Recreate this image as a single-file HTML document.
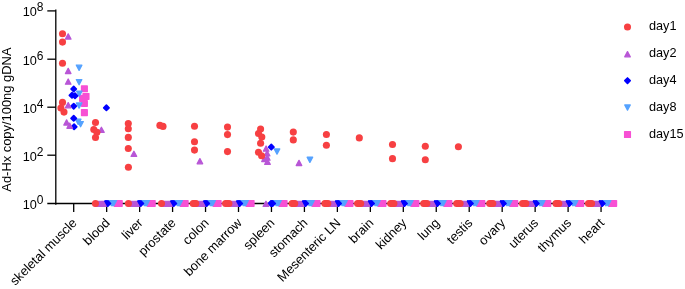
<!DOCTYPE html>
<html><head><meta charset="utf-8"><title>chart</title>
<style>html,body{margin:0;padding:0;background:#fff;}body{width:685px;height:289px;position:relative;overflow:hidden;}</style></head>
<body>
<svg width="685" height="289" viewBox="0 0 685 289" style="position:absolute;left:0;top:0">
<g stroke="#000" stroke-width="1.3" fill="none" stroke-linecap="butt">
<line x1="55.8" y1="9.6" x2="55.8" y2="204.8"/>
<line x1="47.3" y1="203.5" x2="617" y2="203.5"/>
<line x1="47.3" y1="10.9" x2="55.8" y2="10.9"/>
<line x1="47.3" y1="59.2" x2="55.8" y2="59.2"/>
<line x1="47.3" y1="107.2" x2="55.8" y2="107.2"/>
<line x1="47.3" y1="155.2" x2="55.8" y2="155.2"/>
<line x1="73.70" y1="203.5" x2="73.70" y2="212.0"/>
<line x1="106.66" y1="203.5" x2="106.66" y2="212.0"/>
<line x1="139.62" y1="203.5" x2="139.62" y2="212.0"/>
<line x1="172.58" y1="203.5" x2="172.58" y2="212.0"/>
<line x1="205.54" y1="203.5" x2="205.54" y2="212.0"/>
<line x1="238.50" y1="203.5" x2="238.50" y2="212.0"/>
<line x1="271.46" y1="203.5" x2="271.46" y2="212.0"/>
<line x1="304.42" y1="203.5" x2="304.42" y2="212.0"/>
<line x1="337.38" y1="203.5" x2="337.38" y2="212.0"/>
<line x1="370.34" y1="203.5" x2="370.34" y2="212.0"/>
<line x1="403.30" y1="203.5" x2="403.30" y2="212.0"/>
<line x1="436.26" y1="203.5" x2="436.26" y2="212.0"/>
<line x1="469.22" y1="203.5" x2="469.22" y2="212.0"/>
<line x1="502.18" y1="203.5" x2="502.18" y2="212.0"/>
<line x1="535.14" y1="203.5" x2="535.14" y2="212.0"/>
<line x1="568.10" y1="203.5" x2="568.10" y2="212.0"/>
<line x1="601.06" y1="203.5" x2="601.06" y2="212.0"/>
</g>
<g shape-rendering="geometricPrecision">
<rect x="113.61" y="199.95" width="7.1" height="7.1" rx="0.7" fill="#f750d4"/>
<rect x="114.66" y="199.95" width="7.1" height="7.1" rx="0.7" fill="#f750d4"/>
<rect x="115.71" y="199.95" width="7.1" height="7.1" rx="0.7" fill="#f750d4"/>
<rect x="146.57" y="199.95" width="7.1" height="7.1" rx="0.7" fill="#f750d4"/>
<rect x="147.62" y="199.95" width="7.1" height="7.1" rx="0.7" fill="#f750d4"/>
<rect x="148.67" y="199.95" width="7.1" height="7.1" rx="0.7" fill="#f750d4"/>
<rect x="179.53" y="199.95" width="7.1" height="7.1" rx="0.7" fill="#f750d4"/>
<rect x="180.58" y="199.95" width="7.1" height="7.1" rx="0.7" fill="#f750d4"/>
<rect x="181.63" y="199.95" width="7.1" height="7.1" rx="0.7" fill="#f750d4"/>
<rect x="212.49" y="199.95" width="7.1" height="7.1" rx="0.7" fill="#f750d4"/>
<rect x="213.54" y="199.95" width="7.1" height="7.1" rx="0.7" fill="#f750d4"/>
<rect x="214.59" y="199.95" width="7.1" height="7.1" rx="0.7" fill="#f750d4"/>
<rect x="245.45" y="199.95" width="7.1" height="7.1" rx="0.7" fill="#f750d4"/>
<rect x="246.50" y="199.95" width="7.1" height="7.1" rx="0.7" fill="#f750d4"/>
<rect x="247.55" y="199.95" width="7.1" height="7.1" rx="0.7" fill="#f750d4"/>
<rect x="278.41" y="199.95" width="7.1" height="7.1" rx="0.7" fill="#f750d4"/>
<rect x="279.46" y="199.95" width="7.1" height="7.1" rx="0.7" fill="#f750d4"/>
<rect x="280.51" y="199.95" width="7.1" height="7.1" rx="0.7" fill="#f750d4"/>
<rect x="311.37" y="199.95" width="7.1" height="7.1" rx="0.7" fill="#f750d4"/>
<rect x="312.42" y="199.95" width="7.1" height="7.1" rx="0.7" fill="#f750d4"/>
<rect x="313.47" y="199.95" width="7.1" height="7.1" rx="0.7" fill="#f750d4"/>
<rect x="344.33" y="199.95" width="7.1" height="7.1" rx="0.7" fill="#f750d4"/>
<rect x="345.38" y="199.95" width="7.1" height="7.1" rx="0.7" fill="#f750d4"/>
<rect x="346.43" y="199.95" width="7.1" height="7.1" rx="0.7" fill="#f750d4"/>
<rect x="377.29" y="199.95" width="7.1" height="7.1" rx="0.7" fill="#f750d4"/>
<rect x="378.34" y="199.95" width="7.1" height="7.1" rx="0.7" fill="#f750d4"/>
<rect x="379.39" y="199.95" width="7.1" height="7.1" rx="0.7" fill="#f750d4"/>
<rect x="410.25" y="199.95" width="7.1" height="7.1" rx="0.7" fill="#f750d4"/>
<rect x="411.30" y="199.95" width="7.1" height="7.1" rx="0.7" fill="#f750d4"/>
<rect x="412.35" y="199.95" width="7.1" height="7.1" rx="0.7" fill="#f750d4"/>
<rect x="443.21" y="199.95" width="7.1" height="7.1" rx="0.7" fill="#f750d4"/>
<rect x="444.26" y="199.95" width="7.1" height="7.1" rx="0.7" fill="#f750d4"/>
<rect x="445.31" y="199.95" width="7.1" height="7.1" rx="0.7" fill="#f750d4"/>
<rect x="476.17" y="199.95" width="7.1" height="7.1" rx="0.7" fill="#f750d4"/>
<rect x="477.22" y="199.95" width="7.1" height="7.1" rx="0.7" fill="#f750d4"/>
<rect x="478.27" y="199.95" width="7.1" height="7.1" rx="0.7" fill="#f750d4"/>
<rect x="509.13" y="199.95" width="7.1" height="7.1" rx="0.7" fill="#f750d4"/>
<rect x="510.18" y="199.95" width="7.1" height="7.1" rx="0.7" fill="#f750d4"/>
<rect x="511.23" y="199.95" width="7.1" height="7.1" rx="0.7" fill="#f750d4"/>
<rect x="542.09" y="199.95" width="7.1" height="7.1" rx="0.7" fill="#f750d4"/>
<rect x="543.14" y="199.95" width="7.1" height="7.1" rx="0.7" fill="#f750d4"/>
<rect x="544.19" y="199.95" width="7.1" height="7.1" rx="0.7" fill="#f750d4"/>
<rect x="575.05" y="199.95" width="7.1" height="7.1" rx="0.7" fill="#f750d4"/>
<rect x="576.10" y="199.95" width="7.1" height="7.1" rx="0.7" fill="#f750d4"/>
<rect x="577.15" y="199.95" width="7.1" height="7.1" rx="0.7" fill="#f750d4"/>
<rect x="608.01" y="199.95" width="7.1" height="7.1" rx="0.7" fill="#f750d4"/>
<rect x="609.06" y="199.95" width="7.1" height="7.1" rx="0.7" fill="#f750d4"/>
<rect x="610.11" y="199.95" width="7.1" height="7.1" rx="0.7" fill="#f750d4"/>
<rect x="80.85" y="85.25" width="7.1" height="7.1" rx="0.7" fill="#f750d4"/>
<rect x="79.05" y="94.85" width="7.1" height="7.1" rx="0.7" fill="#f750d4"/>
<rect x="82.45" y="92.90" width="7.1" height="7.1" rx="0.7" fill="#f750d4"/>
<rect x="80.85" y="99.90" width="7.1" height="7.1" rx="0.7" fill="#f750d4"/>
<rect x="80.85" y="109.05" width="7.1" height="7.1" rx="0.7" fill="#f750d4"/>
<polygon points="108.59,200.55 114.13,200.55 111.36,205.72" fill="#55a2ff" stroke="#55a2ff" stroke-width="1.3" stroke-linejoin="round"/>
<polygon points="109.79,200.55 115.33,200.55 112.56,205.72" fill="#55a2ff" stroke="#55a2ff" stroke-width="1.3" stroke-linejoin="round"/>
<polygon points="110.99,200.55 116.53,200.55 113.76,205.72" fill="#55a2ff" stroke="#55a2ff" stroke-width="1.3" stroke-linejoin="round"/>
<polygon points="141.55,200.55 147.09,200.55 144.32,205.72" fill="#55a2ff" stroke="#55a2ff" stroke-width="1.3" stroke-linejoin="round"/>
<polygon points="142.75,200.55 148.29,200.55 145.52,205.72" fill="#55a2ff" stroke="#55a2ff" stroke-width="1.3" stroke-linejoin="round"/>
<polygon points="143.95,200.55 149.49,200.55 146.72,205.72" fill="#55a2ff" stroke="#55a2ff" stroke-width="1.3" stroke-linejoin="round"/>
<polygon points="174.51,200.55 180.05,200.55 177.28,205.72" fill="#55a2ff" stroke="#55a2ff" stroke-width="1.3" stroke-linejoin="round"/>
<polygon points="175.71,200.55 181.25,200.55 178.48,205.72" fill="#55a2ff" stroke="#55a2ff" stroke-width="1.3" stroke-linejoin="round"/>
<polygon points="176.91,200.55 182.45,200.55 179.68,205.72" fill="#55a2ff" stroke="#55a2ff" stroke-width="1.3" stroke-linejoin="round"/>
<polygon points="207.47,200.55 213.01,200.55 210.24,205.72" fill="#55a2ff" stroke="#55a2ff" stroke-width="1.3" stroke-linejoin="round"/>
<polygon points="208.67,200.55 214.21,200.55 211.44,205.72" fill="#55a2ff" stroke="#55a2ff" stroke-width="1.3" stroke-linejoin="round"/>
<polygon points="209.87,200.55 215.41,200.55 212.64,205.72" fill="#55a2ff" stroke="#55a2ff" stroke-width="1.3" stroke-linejoin="round"/>
<polygon points="240.43,200.55 245.97,200.55 243.20,205.72" fill="#55a2ff" stroke="#55a2ff" stroke-width="1.3" stroke-linejoin="round"/>
<polygon points="241.63,200.55 247.17,200.55 244.40,205.72" fill="#55a2ff" stroke="#55a2ff" stroke-width="1.3" stroke-linejoin="round"/>
<polygon points="242.83,200.55 248.37,200.55 245.60,205.72" fill="#55a2ff" stroke="#55a2ff" stroke-width="1.3" stroke-linejoin="round"/>
<polygon points="273.39,200.55 278.93,200.55 276.16,205.72" fill="#55a2ff" stroke="#55a2ff" stroke-width="1.3" stroke-linejoin="round"/>
<polygon points="274.59,200.55 280.13,200.55 277.36,205.72" fill="#55a2ff" stroke="#55a2ff" stroke-width="1.3" stroke-linejoin="round"/>
<polygon points="275.79,200.55 281.33,200.55 278.56,205.72" fill="#55a2ff" stroke="#55a2ff" stroke-width="1.3" stroke-linejoin="round"/>
<polygon points="306.35,200.55 311.89,200.55 309.12,205.72" fill="#55a2ff" stroke="#55a2ff" stroke-width="1.3" stroke-linejoin="round"/>
<polygon points="307.55,200.55 313.09,200.55 310.32,205.72" fill="#55a2ff" stroke="#55a2ff" stroke-width="1.3" stroke-linejoin="round"/>
<polygon points="308.75,200.55 314.29,200.55 311.52,205.72" fill="#55a2ff" stroke="#55a2ff" stroke-width="1.3" stroke-linejoin="round"/>
<polygon points="339.31,200.55 344.85,200.55 342.08,205.72" fill="#55a2ff" stroke="#55a2ff" stroke-width="1.3" stroke-linejoin="round"/>
<polygon points="340.51,200.55 346.05,200.55 343.28,205.72" fill="#55a2ff" stroke="#55a2ff" stroke-width="1.3" stroke-linejoin="round"/>
<polygon points="341.71,200.55 347.25,200.55 344.48,205.72" fill="#55a2ff" stroke="#55a2ff" stroke-width="1.3" stroke-linejoin="round"/>
<polygon points="372.27,200.55 377.81,200.55 375.04,205.72" fill="#55a2ff" stroke="#55a2ff" stroke-width="1.3" stroke-linejoin="round"/>
<polygon points="373.47,200.55 379.01,200.55 376.24,205.72" fill="#55a2ff" stroke="#55a2ff" stroke-width="1.3" stroke-linejoin="round"/>
<polygon points="374.67,200.55 380.21,200.55 377.44,205.72" fill="#55a2ff" stroke="#55a2ff" stroke-width="1.3" stroke-linejoin="round"/>
<polygon points="405.23,200.55 410.77,200.55 408.00,205.72" fill="#55a2ff" stroke="#55a2ff" stroke-width="1.3" stroke-linejoin="round"/>
<polygon points="406.43,200.55 411.97,200.55 409.20,205.72" fill="#55a2ff" stroke="#55a2ff" stroke-width="1.3" stroke-linejoin="round"/>
<polygon points="407.63,200.55 413.17,200.55 410.40,205.72" fill="#55a2ff" stroke="#55a2ff" stroke-width="1.3" stroke-linejoin="round"/>
<polygon points="438.19,200.55 443.73,200.55 440.96,205.72" fill="#55a2ff" stroke="#55a2ff" stroke-width="1.3" stroke-linejoin="round"/>
<polygon points="439.39,200.55 444.93,200.55 442.16,205.72" fill="#55a2ff" stroke="#55a2ff" stroke-width="1.3" stroke-linejoin="round"/>
<polygon points="440.59,200.55 446.13,200.55 443.36,205.72" fill="#55a2ff" stroke="#55a2ff" stroke-width="1.3" stroke-linejoin="round"/>
<polygon points="471.15,200.55 476.69,200.55 473.92,205.72" fill="#55a2ff" stroke="#55a2ff" stroke-width="1.3" stroke-linejoin="round"/>
<polygon points="472.35,200.55 477.89,200.55 475.12,205.72" fill="#55a2ff" stroke="#55a2ff" stroke-width="1.3" stroke-linejoin="round"/>
<polygon points="473.55,200.55 479.09,200.55 476.32,205.72" fill="#55a2ff" stroke="#55a2ff" stroke-width="1.3" stroke-linejoin="round"/>
<polygon points="504.11,200.55 509.65,200.55 506.88,205.72" fill="#55a2ff" stroke="#55a2ff" stroke-width="1.3" stroke-linejoin="round"/>
<polygon points="505.31,200.55 510.85,200.55 508.08,205.72" fill="#55a2ff" stroke="#55a2ff" stroke-width="1.3" stroke-linejoin="round"/>
<polygon points="506.51,200.55 512.05,200.55 509.28,205.72" fill="#55a2ff" stroke="#55a2ff" stroke-width="1.3" stroke-linejoin="round"/>
<polygon points="537.07,200.55 542.61,200.55 539.84,205.72" fill="#55a2ff" stroke="#55a2ff" stroke-width="1.3" stroke-linejoin="round"/>
<polygon points="538.27,200.55 543.81,200.55 541.04,205.72" fill="#55a2ff" stroke="#55a2ff" stroke-width="1.3" stroke-linejoin="round"/>
<polygon points="539.47,200.55 545.01,200.55 542.24,205.72" fill="#55a2ff" stroke="#55a2ff" stroke-width="1.3" stroke-linejoin="round"/>
<polygon points="570.03,200.55 575.57,200.55 572.80,205.72" fill="#55a2ff" stroke="#55a2ff" stroke-width="1.3" stroke-linejoin="round"/>
<polygon points="571.23,200.55 576.77,200.55 574.00,205.72" fill="#55a2ff" stroke="#55a2ff" stroke-width="1.3" stroke-linejoin="round"/>
<polygon points="572.43,200.55 577.97,200.55 575.20,205.72" fill="#55a2ff" stroke="#55a2ff" stroke-width="1.3" stroke-linejoin="round"/>
<polygon points="602.99,200.55 608.53,200.55 605.76,205.72" fill="#55a2ff" stroke="#55a2ff" stroke-width="1.3" stroke-linejoin="round"/>
<polygon points="604.19,200.55 609.73,200.55 606.96,205.72" fill="#55a2ff" stroke="#55a2ff" stroke-width="1.3" stroke-linejoin="round"/>
<polygon points="605.39,200.55 610.93,200.55 608.16,205.72" fill="#55a2ff" stroke="#55a2ff" stroke-width="1.3" stroke-linejoin="round"/>
<polygon points="76.33,65.15 81.87,65.15 79.10,70.32" fill="#55a2ff" stroke="#55a2ff" stroke-width="1.3" stroke-linejoin="round"/>
<polygon points="76.33,79.55 81.87,79.55 79.10,84.72" fill="#55a2ff" stroke="#55a2ff" stroke-width="1.3" stroke-linejoin="round"/>
<polygon points="76.53,91.05 82.07,91.05 79.30,96.22" fill="#55a2ff" stroke="#55a2ff" stroke-width="1.3" stroke-linejoin="round"/>
<polygon points="76.33,102.95 81.87,102.95 79.10,108.12" fill="#55a2ff" stroke="#55a2ff" stroke-width="1.3" stroke-linejoin="round"/>
<polygon points="75.43,119.15 80.97,119.15 78.20,124.32" fill="#55a2ff" stroke="#55a2ff" stroke-width="1.3" stroke-linejoin="round"/>
<polygon points="77.83,121.55 83.37,121.55 80.60,126.72" fill="#55a2ff" stroke="#55a2ff" stroke-width="1.3" stroke-linejoin="round"/>
<polygon points="274.23,148.95 279.77,148.95 277.00,154.12" fill="#55a2ff" stroke="#55a2ff" stroke-width="1.3" stroke-linejoin="round"/>
<polygon points="307.13,157.25 312.67,157.25 309.90,162.42" fill="#55a2ff" stroke="#55a2ff" stroke-width="1.3" stroke-linejoin="round"/>
<polygon points="105.26,200.85 107.91,203.50 105.26,206.15 102.61,203.50" fill="#0000ff" stroke="#0000ff" stroke-width="1.7" stroke-linejoin="round"/>
<polygon points="106.56,200.85 109.21,203.50 106.56,206.15 103.91,203.50" fill="#0000ff" stroke="#0000ff" stroke-width="1.7" stroke-linejoin="round"/>
<polygon points="107.86,200.85 110.51,203.50 107.86,206.15 105.21,203.50" fill="#0000ff" stroke="#0000ff" stroke-width="1.7" stroke-linejoin="round"/>
<polygon points="138.22,200.85 140.87,203.50 138.22,206.15 135.57,203.50" fill="#0000ff" stroke="#0000ff" stroke-width="1.7" stroke-linejoin="round"/>
<polygon points="139.52,200.85 142.17,203.50 139.52,206.15 136.87,203.50" fill="#0000ff" stroke="#0000ff" stroke-width="1.7" stroke-linejoin="round"/>
<polygon points="140.82,200.85 143.47,203.50 140.82,206.15 138.17,203.50" fill="#0000ff" stroke="#0000ff" stroke-width="1.7" stroke-linejoin="round"/>
<polygon points="171.18,200.85 173.83,203.50 171.18,206.15 168.53,203.50" fill="#0000ff" stroke="#0000ff" stroke-width="1.7" stroke-linejoin="round"/>
<polygon points="172.48,200.85 175.13,203.50 172.48,206.15 169.83,203.50" fill="#0000ff" stroke="#0000ff" stroke-width="1.7" stroke-linejoin="round"/>
<polygon points="173.78,200.85 176.43,203.50 173.78,206.15 171.13,203.50" fill="#0000ff" stroke="#0000ff" stroke-width="1.7" stroke-linejoin="round"/>
<polygon points="204.14,200.85 206.79,203.50 204.14,206.15 201.49,203.50" fill="#0000ff" stroke="#0000ff" stroke-width="1.7" stroke-linejoin="round"/>
<polygon points="205.44,200.85 208.09,203.50 205.44,206.15 202.79,203.50" fill="#0000ff" stroke="#0000ff" stroke-width="1.7" stroke-linejoin="round"/>
<polygon points="206.74,200.85 209.39,203.50 206.74,206.15 204.09,203.50" fill="#0000ff" stroke="#0000ff" stroke-width="1.7" stroke-linejoin="round"/>
<polygon points="237.10,200.85 239.75,203.50 237.10,206.15 234.45,203.50" fill="#0000ff" stroke="#0000ff" stroke-width="1.7" stroke-linejoin="round"/>
<polygon points="238.40,200.85 241.05,203.50 238.40,206.15 235.75,203.50" fill="#0000ff" stroke="#0000ff" stroke-width="1.7" stroke-linejoin="round"/>
<polygon points="239.70,200.85 242.35,203.50 239.70,206.15 237.05,203.50" fill="#0000ff" stroke="#0000ff" stroke-width="1.7" stroke-linejoin="round"/>
<polygon points="270.96,200.85 273.61,203.50 270.96,206.15 268.31,203.50" fill="#0000ff" stroke="#0000ff" stroke-width="1.7" stroke-linejoin="round"/>
<polygon points="271.81,200.85 274.46,203.50 271.81,206.15 269.16,203.50" fill="#0000ff" stroke="#0000ff" stroke-width="1.7" stroke-linejoin="round"/>
<polygon points="272.66,200.85 275.31,203.50 272.66,206.15 270.01,203.50" fill="#0000ff" stroke="#0000ff" stroke-width="1.7" stroke-linejoin="round"/>
<polygon points="303.02,200.85 305.67,203.50 303.02,206.15 300.37,203.50" fill="#0000ff" stroke="#0000ff" stroke-width="1.7" stroke-linejoin="round"/>
<polygon points="304.32,200.85 306.97,203.50 304.32,206.15 301.67,203.50" fill="#0000ff" stroke="#0000ff" stroke-width="1.7" stroke-linejoin="round"/>
<polygon points="305.62,200.85 308.27,203.50 305.62,206.15 302.97,203.50" fill="#0000ff" stroke="#0000ff" stroke-width="1.7" stroke-linejoin="round"/>
<polygon points="335.98,200.85 338.63,203.50 335.98,206.15 333.33,203.50" fill="#0000ff" stroke="#0000ff" stroke-width="1.7" stroke-linejoin="round"/>
<polygon points="337.28,200.85 339.93,203.50 337.28,206.15 334.63,203.50" fill="#0000ff" stroke="#0000ff" stroke-width="1.7" stroke-linejoin="round"/>
<polygon points="338.58,200.85 341.23,203.50 338.58,206.15 335.93,203.50" fill="#0000ff" stroke="#0000ff" stroke-width="1.7" stroke-linejoin="round"/>
<polygon points="368.94,200.85 371.59,203.50 368.94,206.15 366.29,203.50" fill="#0000ff" stroke="#0000ff" stroke-width="1.7" stroke-linejoin="round"/>
<polygon points="370.24,200.85 372.89,203.50 370.24,206.15 367.59,203.50" fill="#0000ff" stroke="#0000ff" stroke-width="1.7" stroke-linejoin="round"/>
<polygon points="371.54,200.85 374.19,203.50 371.54,206.15 368.89,203.50" fill="#0000ff" stroke="#0000ff" stroke-width="1.7" stroke-linejoin="round"/>
<polygon points="401.90,200.85 404.55,203.50 401.90,206.15 399.25,203.50" fill="#0000ff" stroke="#0000ff" stroke-width="1.7" stroke-linejoin="round"/>
<polygon points="403.20,200.85 405.85,203.50 403.20,206.15 400.55,203.50" fill="#0000ff" stroke="#0000ff" stroke-width="1.7" stroke-linejoin="round"/>
<polygon points="404.50,200.85 407.15,203.50 404.50,206.15 401.85,203.50" fill="#0000ff" stroke="#0000ff" stroke-width="1.7" stroke-linejoin="round"/>
<polygon points="434.86,200.85 437.51,203.50 434.86,206.15 432.21,203.50" fill="#0000ff" stroke="#0000ff" stroke-width="1.7" stroke-linejoin="round"/>
<polygon points="436.16,200.85 438.81,203.50 436.16,206.15 433.51,203.50" fill="#0000ff" stroke="#0000ff" stroke-width="1.7" stroke-linejoin="round"/>
<polygon points="437.46,200.85 440.11,203.50 437.46,206.15 434.81,203.50" fill="#0000ff" stroke="#0000ff" stroke-width="1.7" stroke-linejoin="round"/>
<polygon points="467.82,200.85 470.47,203.50 467.82,206.15 465.17,203.50" fill="#0000ff" stroke="#0000ff" stroke-width="1.7" stroke-linejoin="round"/>
<polygon points="469.12,200.85 471.77,203.50 469.12,206.15 466.47,203.50" fill="#0000ff" stroke="#0000ff" stroke-width="1.7" stroke-linejoin="round"/>
<polygon points="470.42,200.85 473.07,203.50 470.42,206.15 467.77,203.50" fill="#0000ff" stroke="#0000ff" stroke-width="1.7" stroke-linejoin="round"/>
<polygon points="500.78,200.85 503.43,203.50 500.78,206.15 498.13,203.50" fill="#0000ff" stroke="#0000ff" stroke-width="1.7" stroke-linejoin="round"/>
<polygon points="502.08,200.85 504.73,203.50 502.08,206.15 499.43,203.50" fill="#0000ff" stroke="#0000ff" stroke-width="1.7" stroke-linejoin="round"/>
<polygon points="503.38,200.85 506.03,203.50 503.38,206.15 500.73,203.50" fill="#0000ff" stroke="#0000ff" stroke-width="1.7" stroke-linejoin="round"/>
<polygon points="533.74,200.85 536.39,203.50 533.74,206.15 531.09,203.50" fill="#0000ff" stroke="#0000ff" stroke-width="1.7" stroke-linejoin="round"/>
<polygon points="535.04,200.85 537.69,203.50 535.04,206.15 532.39,203.50" fill="#0000ff" stroke="#0000ff" stroke-width="1.7" stroke-linejoin="round"/>
<polygon points="536.34,200.85 538.99,203.50 536.34,206.15 533.69,203.50" fill="#0000ff" stroke="#0000ff" stroke-width="1.7" stroke-linejoin="round"/>
<polygon points="566.70,200.85 569.35,203.50 566.70,206.15 564.05,203.50" fill="#0000ff" stroke="#0000ff" stroke-width="1.7" stroke-linejoin="round"/>
<polygon points="568.00,200.85 570.65,203.50 568.00,206.15 565.35,203.50" fill="#0000ff" stroke="#0000ff" stroke-width="1.7" stroke-linejoin="round"/>
<polygon points="569.30,200.85 571.95,203.50 569.30,206.15 566.65,203.50" fill="#0000ff" stroke="#0000ff" stroke-width="1.7" stroke-linejoin="round"/>
<polygon points="599.66,200.85 602.31,203.50 599.66,206.15 597.01,203.50" fill="#0000ff" stroke="#0000ff" stroke-width="1.7" stroke-linejoin="round"/>
<polygon points="600.96,200.85 603.61,203.50 600.96,206.15 598.31,203.50" fill="#0000ff" stroke="#0000ff" stroke-width="1.7" stroke-linejoin="round"/>
<polygon points="602.26,200.85 604.91,203.50 602.26,206.15 599.61,203.50" fill="#0000ff" stroke="#0000ff" stroke-width="1.7" stroke-linejoin="round"/>
<polygon points="73.70,86.35 76.35,89.00 73.70,91.65 71.05,89.00" fill="#0000ff" stroke="#0000ff" stroke-width="1.7" stroke-linejoin="round"/>
<polygon points="72.00,92.65 74.65,95.30 72.00,97.95 69.35,95.30" fill="#0000ff" stroke="#0000ff" stroke-width="1.7" stroke-linejoin="round"/>
<polygon points="75.00,93.15 77.65,95.80 75.00,98.45 72.35,95.80" fill="#0000ff" stroke="#0000ff" stroke-width="1.7" stroke-linejoin="round"/>
<polygon points="73.70,103.55 76.35,106.20 73.70,108.85 71.05,106.20" fill="#0000ff" stroke="#0000ff" stroke-width="1.7" stroke-linejoin="round"/>
<polygon points="73.70,115.65 76.35,118.30 73.70,120.95 71.05,118.30" fill="#0000ff" stroke="#0000ff" stroke-width="1.7" stroke-linejoin="round"/>
<polygon points="74.10,124.15 76.75,126.80 74.10,129.45 71.45,126.80" fill="#0000ff" stroke="#0000ff" stroke-width="1.7" stroke-linejoin="round"/>
<polygon points="106.40,105.15 109.05,107.80 106.40,110.45 103.75,107.80" fill="#0000ff" stroke="#0000ff" stroke-width="1.7" stroke-linejoin="round"/>
<polygon points="271.30,144.45 273.95,147.10 271.30,149.75 268.65,147.10" fill="#0000ff" stroke="#0000ff" stroke-width="1.7" stroke-linejoin="round"/>
<polygon points="97.86,201.23 100.63,206.40 95.09,206.40" fill="#b856d6" stroke="#b856d6" stroke-width="1.3" stroke-linejoin="round"/>
<polygon points="98.96,201.23 101.73,206.40 96.19,206.40" fill="#b856d6" stroke="#b856d6" stroke-width="1.3" stroke-linejoin="round"/>
<polygon points="100.06,201.23 102.83,206.40 97.29,206.40" fill="#b856d6" stroke="#b856d6" stroke-width="1.3" stroke-linejoin="round"/>
<polygon points="101.16,201.23 103.93,206.40 98.39,206.40" fill="#b856d6" stroke="#b856d6" stroke-width="1.3" stroke-linejoin="round"/>
<polygon points="102.26,201.23 105.03,206.40 99.49,206.40" fill="#b856d6" stroke="#b856d6" stroke-width="1.3" stroke-linejoin="round"/>
<polygon points="103.36,201.23 106.13,206.40 100.59,206.40" fill="#b856d6" stroke="#b856d6" stroke-width="1.3" stroke-linejoin="round"/>
<polygon points="130.82,201.23 133.59,206.40 128.05,206.40" fill="#b856d6" stroke="#b856d6" stroke-width="1.3" stroke-linejoin="round"/>
<polygon points="131.92,201.23 134.69,206.40 129.15,206.40" fill="#b856d6" stroke="#b856d6" stroke-width="1.3" stroke-linejoin="round"/>
<polygon points="133.02,201.23 135.79,206.40 130.25,206.40" fill="#b856d6" stroke="#b856d6" stroke-width="1.3" stroke-linejoin="round"/>
<polygon points="134.12,201.23 136.89,206.40 131.35,206.40" fill="#b856d6" stroke="#b856d6" stroke-width="1.3" stroke-linejoin="round"/>
<polygon points="135.22,201.23 137.99,206.40 132.45,206.40" fill="#b856d6" stroke="#b856d6" stroke-width="1.3" stroke-linejoin="round"/>
<polygon points="136.32,201.23 139.09,206.40 133.55,206.40" fill="#b856d6" stroke="#b856d6" stroke-width="1.3" stroke-linejoin="round"/>
<polygon points="163.78,201.23 166.55,206.40 161.01,206.40" fill="#b856d6" stroke="#b856d6" stroke-width="1.3" stroke-linejoin="round"/>
<polygon points="164.88,201.23 167.65,206.40 162.11,206.40" fill="#b856d6" stroke="#b856d6" stroke-width="1.3" stroke-linejoin="round"/>
<polygon points="165.98,201.23 168.75,206.40 163.21,206.40" fill="#b856d6" stroke="#b856d6" stroke-width="1.3" stroke-linejoin="round"/>
<polygon points="167.08,201.23 169.85,206.40 164.31,206.40" fill="#b856d6" stroke="#b856d6" stroke-width="1.3" stroke-linejoin="round"/>
<polygon points="168.18,201.23 170.95,206.40 165.41,206.40" fill="#b856d6" stroke="#b856d6" stroke-width="1.3" stroke-linejoin="round"/>
<polygon points="169.28,201.23 172.05,206.40 166.51,206.40" fill="#b856d6" stroke="#b856d6" stroke-width="1.3" stroke-linejoin="round"/>
<polygon points="196.74,201.23 199.51,206.40 193.97,206.40" fill="#b856d6" stroke="#b856d6" stroke-width="1.3" stroke-linejoin="round"/>
<polygon points="197.84,201.23 200.61,206.40 195.07,206.40" fill="#b856d6" stroke="#b856d6" stroke-width="1.3" stroke-linejoin="round"/>
<polygon points="198.94,201.23 201.71,206.40 196.17,206.40" fill="#b856d6" stroke="#b856d6" stroke-width="1.3" stroke-linejoin="round"/>
<polygon points="200.04,201.23 202.81,206.40 197.27,206.40" fill="#b856d6" stroke="#b856d6" stroke-width="1.3" stroke-linejoin="round"/>
<polygon points="201.14,201.23 203.91,206.40 198.37,206.40" fill="#b856d6" stroke="#b856d6" stroke-width="1.3" stroke-linejoin="round"/>
<polygon points="202.24,201.23 205.01,206.40 199.47,206.40" fill="#b856d6" stroke="#b856d6" stroke-width="1.3" stroke-linejoin="round"/>
<polygon points="229.70,201.23 232.47,206.40 226.93,206.40" fill="#b856d6" stroke="#b856d6" stroke-width="1.3" stroke-linejoin="round"/>
<polygon points="230.80,201.23 233.57,206.40 228.03,206.40" fill="#b856d6" stroke="#b856d6" stroke-width="1.3" stroke-linejoin="round"/>
<polygon points="231.90,201.23 234.67,206.40 229.13,206.40" fill="#b856d6" stroke="#b856d6" stroke-width="1.3" stroke-linejoin="round"/>
<polygon points="233.00,201.23 235.77,206.40 230.23,206.40" fill="#b856d6" stroke="#b856d6" stroke-width="1.3" stroke-linejoin="round"/>
<polygon points="234.10,201.23 236.87,206.40 231.33,206.40" fill="#b856d6" stroke="#b856d6" stroke-width="1.3" stroke-linejoin="round"/>
<polygon points="235.20,201.23 237.97,206.40 232.43,206.40" fill="#b856d6" stroke="#b856d6" stroke-width="1.3" stroke-linejoin="round"/>
<polygon points="265.96,201.23 268.73,206.40 263.19,206.40" fill="#b856d6" stroke="#b856d6" stroke-width="1.3" stroke-linejoin="round"/>
<polygon points="295.62,201.23 298.39,206.40 292.85,206.40" fill="#b856d6" stroke="#b856d6" stroke-width="1.3" stroke-linejoin="round"/>
<polygon points="296.72,201.23 299.49,206.40 293.95,206.40" fill="#b856d6" stroke="#b856d6" stroke-width="1.3" stroke-linejoin="round"/>
<polygon points="297.82,201.23 300.59,206.40 295.05,206.40" fill="#b856d6" stroke="#b856d6" stroke-width="1.3" stroke-linejoin="round"/>
<polygon points="298.92,201.23 301.69,206.40 296.15,206.40" fill="#b856d6" stroke="#b856d6" stroke-width="1.3" stroke-linejoin="round"/>
<polygon points="300.02,201.23 302.79,206.40 297.25,206.40" fill="#b856d6" stroke="#b856d6" stroke-width="1.3" stroke-linejoin="round"/>
<polygon points="301.12,201.23 303.89,206.40 298.35,206.40" fill="#b856d6" stroke="#b856d6" stroke-width="1.3" stroke-linejoin="round"/>
<polygon points="328.58,201.23 331.35,206.40 325.81,206.40" fill="#b856d6" stroke="#b856d6" stroke-width="1.3" stroke-linejoin="round"/>
<polygon points="329.68,201.23 332.45,206.40 326.91,206.40" fill="#b856d6" stroke="#b856d6" stroke-width="1.3" stroke-linejoin="round"/>
<polygon points="330.78,201.23 333.55,206.40 328.01,206.40" fill="#b856d6" stroke="#b856d6" stroke-width="1.3" stroke-linejoin="round"/>
<polygon points="331.88,201.23 334.65,206.40 329.11,206.40" fill="#b856d6" stroke="#b856d6" stroke-width="1.3" stroke-linejoin="round"/>
<polygon points="332.98,201.23 335.75,206.40 330.21,206.40" fill="#b856d6" stroke="#b856d6" stroke-width="1.3" stroke-linejoin="round"/>
<polygon points="334.08,201.23 336.85,206.40 331.31,206.40" fill="#b856d6" stroke="#b856d6" stroke-width="1.3" stroke-linejoin="round"/>
<polygon points="361.54,201.23 364.31,206.40 358.77,206.40" fill="#b856d6" stroke="#b856d6" stroke-width="1.3" stroke-linejoin="round"/>
<polygon points="362.64,201.23 365.41,206.40 359.87,206.40" fill="#b856d6" stroke="#b856d6" stroke-width="1.3" stroke-linejoin="round"/>
<polygon points="363.74,201.23 366.51,206.40 360.97,206.40" fill="#b856d6" stroke="#b856d6" stroke-width="1.3" stroke-linejoin="round"/>
<polygon points="364.84,201.23 367.61,206.40 362.07,206.40" fill="#b856d6" stroke="#b856d6" stroke-width="1.3" stroke-linejoin="round"/>
<polygon points="365.94,201.23 368.71,206.40 363.17,206.40" fill="#b856d6" stroke="#b856d6" stroke-width="1.3" stroke-linejoin="round"/>
<polygon points="367.04,201.23 369.81,206.40 364.27,206.40" fill="#b856d6" stroke="#b856d6" stroke-width="1.3" stroke-linejoin="round"/>
<polygon points="394.50,201.23 397.27,206.40 391.73,206.40" fill="#b856d6" stroke="#b856d6" stroke-width="1.3" stroke-linejoin="round"/>
<polygon points="395.60,201.23 398.37,206.40 392.83,206.40" fill="#b856d6" stroke="#b856d6" stroke-width="1.3" stroke-linejoin="round"/>
<polygon points="396.70,201.23 399.47,206.40 393.93,206.40" fill="#b856d6" stroke="#b856d6" stroke-width="1.3" stroke-linejoin="round"/>
<polygon points="397.80,201.23 400.57,206.40 395.03,206.40" fill="#b856d6" stroke="#b856d6" stroke-width="1.3" stroke-linejoin="round"/>
<polygon points="398.90,201.23 401.67,206.40 396.13,206.40" fill="#b856d6" stroke="#b856d6" stroke-width="1.3" stroke-linejoin="round"/>
<polygon points="400.00,201.23 402.77,206.40 397.23,206.40" fill="#b856d6" stroke="#b856d6" stroke-width="1.3" stroke-linejoin="round"/>
<polygon points="427.46,201.23 430.23,206.40 424.69,206.40" fill="#b856d6" stroke="#b856d6" stroke-width="1.3" stroke-linejoin="round"/>
<polygon points="428.56,201.23 431.33,206.40 425.79,206.40" fill="#b856d6" stroke="#b856d6" stroke-width="1.3" stroke-linejoin="round"/>
<polygon points="429.66,201.23 432.43,206.40 426.89,206.40" fill="#b856d6" stroke="#b856d6" stroke-width="1.3" stroke-linejoin="round"/>
<polygon points="430.76,201.23 433.53,206.40 427.99,206.40" fill="#b856d6" stroke="#b856d6" stroke-width="1.3" stroke-linejoin="round"/>
<polygon points="431.86,201.23 434.63,206.40 429.09,206.40" fill="#b856d6" stroke="#b856d6" stroke-width="1.3" stroke-linejoin="round"/>
<polygon points="432.96,201.23 435.73,206.40 430.19,206.40" fill="#b856d6" stroke="#b856d6" stroke-width="1.3" stroke-linejoin="round"/>
<polygon points="460.42,201.23 463.19,206.40 457.65,206.40" fill="#b856d6" stroke="#b856d6" stroke-width="1.3" stroke-linejoin="round"/>
<polygon points="461.52,201.23 464.29,206.40 458.75,206.40" fill="#b856d6" stroke="#b856d6" stroke-width="1.3" stroke-linejoin="round"/>
<polygon points="462.62,201.23 465.39,206.40 459.85,206.40" fill="#b856d6" stroke="#b856d6" stroke-width="1.3" stroke-linejoin="round"/>
<polygon points="463.72,201.23 466.49,206.40 460.95,206.40" fill="#b856d6" stroke="#b856d6" stroke-width="1.3" stroke-linejoin="round"/>
<polygon points="464.82,201.23 467.59,206.40 462.05,206.40" fill="#b856d6" stroke="#b856d6" stroke-width="1.3" stroke-linejoin="round"/>
<polygon points="465.92,201.23 468.69,206.40 463.15,206.40" fill="#b856d6" stroke="#b856d6" stroke-width="1.3" stroke-linejoin="round"/>
<polygon points="493.38,201.23 496.15,206.40 490.61,206.40" fill="#b856d6" stroke="#b856d6" stroke-width="1.3" stroke-linejoin="round"/>
<polygon points="494.48,201.23 497.25,206.40 491.71,206.40" fill="#b856d6" stroke="#b856d6" stroke-width="1.3" stroke-linejoin="round"/>
<polygon points="495.58,201.23 498.35,206.40 492.81,206.40" fill="#b856d6" stroke="#b856d6" stroke-width="1.3" stroke-linejoin="round"/>
<polygon points="496.68,201.23 499.45,206.40 493.91,206.40" fill="#b856d6" stroke="#b856d6" stroke-width="1.3" stroke-linejoin="round"/>
<polygon points="497.78,201.23 500.55,206.40 495.01,206.40" fill="#b856d6" stroke="#b856d6" stroke-width="1.3" stroke-linejoin="round"/>
<polygon points="498.88,201.23 501.65,206.40 496.11,206.40" fill="#b856d6" stroke="#b856d6" stroke-width="1.3" stroke-linejoin="round"/>
<polygon points="526.34,201.23 529.11,206.40 523.57,206.40" fill="#b856d6" stroke="#b856d6" stroke-width="1.3" stroke-linejoin="round"/>
<polygon points="527.44,201.23 530.21,206.40 524.67,206.40" fill="#b856d6" stroke="#b856d6" stroke-width="1.3" stroke-linejoin="round"/>
<polygon points="528.54,201.23 531.31,206.40 525.77,206.40" fill="#b856d6" stroke="#b856d6" stroke-width="1.3" stroke-linejoin="round"/>
<polygon points="529.64,201.23 532.41,206.40 526.87,206.40" fill="#b856d6" stroke="#b856d6" stroke-width="1.3" stroke-linejoin="round"/>
<polygon points="530.74,201.23 533.51,206.40 527.97,206.40" fill="#b856d6" stroke="#b856d6" stroke-width="1.3" stroke-linejoin="round"/>
<polygon points="531.84,201.23 534.61,206.40 529.07,206.40" fill="#b856d6" stroke="#b856d6" stroke-width="1.3" stroke-linejoin="round"/>
<polygon points="559.30,201.23 562.07,206.40 556.53,206.40" fill="#b856d6" stroke="#b856d6" stroke-width="1.3" stroke-linejoin="round"/>
<polygon points="560.40,201.23 563.17,206.40 557.63,206.40" fill="#b856d6" stroke="#b856d6" stroke-width="1.3" stroke-linejoin="round"/>
<polygon points="561.50,201.23 564.27,206.40 558.73,206.40" fill="#b856d6" stroke="#b856d6" stroke-width="1.3" stroke-linejoin="round"/>
<polygon points="562.60,201.23 565.37,206.40 559.83,206.40" fill="#b856d6" stroke="#b856d6" stroke-width="1.3" stroke-linejoin="round"/>
<polygon points="563.70,201.23 566.47,206.40 560.93,206.40" fill="#b856d6" stroke="#b856d6" stroke-width="1.3" stroke-linejoin="round"/>
<polygon points="564.80,201.23 567.57,206.40 562.03,206.40" fill="#b856d6" stroke="#b856d6" stroke-width="1.3" stroke-linejoin="round"/>
<polygon points="592.26,201.23 595.03,206.40 589.49,206.40" fill="#b856d6" stroke="#b856d6" stroke-width="1.3" stroke-linejoin="round"/>
<polygon points="593.36,201.23 596.13,206.40 590.59,206.40" fill="#b856d6" stroke="#b856d6" stroke-width="1.3" stroke-linejoin="round"/>
<polygon points="594.46,201.23 597.23,206.40 591.69,206.40" fill="#b856d6" stroke="#b856d6" stroke-width="1.3" stroke-linejoin="round"/>
<polygon points="595.56,201.23 598.33,206.40 592.79,206.40" fill="#b856d6" stroke="#b856d6" stroke-width="1.3" stroke-linejoin="round"/>
<polygon points="596.66,201.23 599.43,206.40 593.89,206.40" fill="#b856d6" stroke="#b856d6" stroke-width="1.3" stroke-linejoin="round"/>
<polygon points="597.76,201.23 600.53,206.40 594.99,206.40" fill="#b856d6" stroke="#b856d6" stroke-width="1.3" stroke-linejoin="round"/>
<polygon points="68.20,33.93 70.97,39.10 65.43,39.10" fill="#b856d6" stroke="#b856d6" stroke-width="1.3" stroke-linejoin="round"/>
<polygon points="68.20,68.33 70.97,73.50 65.43,73.50" fill="#b856d6" stroke="#b856d6" stroke-width="1.3" stroke-linejoin="round"/>
<polygon points="68.20,79.03 70.97,84.20 65.43,84.20" fill="#b856d6" stroke="#b856d6" stroke-width="1.3" stroke-linejoin="round"/>
<polygon points="68.20,102.63 70.97,107.80 65.43,107.80" fill="#b856d6" stroke="#b856d6" stroke-width="1.3" stroke-linejoin="round"/>
<polygon points="66.60,119.93 69.37,125.10 63.83,125.10" fill="#b856d6" stroke="#b856d6" stroke-width="1.3" stroke-linejoin="round"/>
<polygon points="69.70,123.13 72.47,128.30 66.93,128.30" fill="#b856d6" stroke="#b856d6" stroke-width="1.3" stroke-linejoin="round"/>
<polygon points="101.40,127.23 104.17,132.40 98.63,132.40" fill="#b856d6" stroke="#b856d6" stroke-width="1.3" stroke-linejoin="round"/>
<polygon points="133.90,151.23 136.67,156.40 131.13,156.40" fill="#b856d6" stroke="#b856d6" stroke-width="1.3" stroke-linejoin="round"/>
<polygon points="199.90,158.63 202.67,163.80 197.13,163.80" fill="#b856d6" stroke="#b856d6" stroke-width="1.3" stroke-linejoin="round"/>
<polygon points="266.10,146.03 268.87,151.20 263.33,151.20" fill="#b856d6" stroke="#b856d6" stroke-width="1.3" stroke-linejoin="round"/>
<polygon points="267.10,150.73 269.87,155.90 264.33,155.90" fill="#b856d6" stroke="#b856d6" stroke-width="1.3" stroke-linejoin="round"/>
<polygon points="267.30,155.03 270.07,160.20 264.53,160.20" fill="#b856d6" stroke="#b856d6" stroke-width="1.3" stroke-linejoin="round"/>
<polygon points="264.50,156.43 267.27,161.60 261.73,161.60" fill="#b856d6" stroke="#b856d6" stroke-width="1.3" stroke-linejoin="round"/>
<polygon points="267.50,159.23 270.27,164.40 264.73,164.40" fill="#b856d6" stroke="#b856d6" stroke-width="1.3" stroke-linejoin="round"/>
<polygon points="299.00,160.33 301.77,165.50 296.23,165.50" fill="#b856d6" stroke="#b856d6" stroke-width="1.3" stroke-linejoin="round"/>
<circle cx="95.45" cy="203.50" r="3.55" fill="#f74042"/>
<circle cx="128.43" cy="203.50" r="3.55" fill="#f74042"/>
<circle cx="161.50" cy="203.50" r="3.55" fill="#f74042"/>
<circle cx="193.20" cy="203.50" r="3.55" fill="#f74042"/>
<circle cx="194.50" cy="203.50" r="3.55" fill="#f74042"/>
<circle cx="195.80" cy="203.50" r="3.55" fill="#f74042"/>
<circle cx="225.60" cy="203.50" r="3.55" fill="#f74042"/>
<circle cx="227.25" cy="203.50" r="3.55" fill="#f74042"/>
<circle cx="228.90" cy="203.50" r="3.55" fill="#f74042"/>
<circle cx="292.10" cy="203.50" r="3.55" fill="#f74042"/>
<circle cx="293.40" cy="203.50" r="3.55" fill="#f74042"/>
<circle cx="294.70" cy="203.50" r="3.55" fill="#f74042"/>
<circle cx="324.90" cy="203.50" r="3.55" fill="#f74042"/>
<circle cx="326.35" cy="203.50" r="3.55" fill="#f74042"/>
<circle cx="327.80" cy="203.50" r="3.55" fill="#f74042"/>
<circle cx="357.60" cy="203.50" r="3.55" fill="#f74042"/>
<circle cx="359.15" cy="203.50" r="3.55" fill="#f74042"/>
<circle cx="360.70" cy="203.50" r="3.55" fill="#f74042"/>
<circle cx="390.70" cy="203.50" r="3.55" fill="#f74042"/>
<circle cx="392.30" cy="203.50" r="3.55" fill="#f74042"/>
<circle cx="393.90" cy="203.50" r="3.55" fill="#f74042"/>
<circle cx="423.70" cy="203.50" r="3.55" fill="#f74042"/>
<circle cx="425.25" cy="203.50" r="3.55" fill="#f74042"/>
<circle cx="426.80" cy="203.50" r="3.55" fill="#f74042"/>
<circle cx="456.70" cy="203.50" r="3.55" fill="#f74042"/>
<circle cx="458.40" cy="203.50" r="3.55" fill="#f74042"/>
<circle cx="460.10" cy="203.50" r="3.55" fill="#f74042"/>
<circle cx="489.70" cy="203.50" r="3.55" fill="#f74042"/>
<circle cx="491.25" cy="203.50" r="3.55" fill="#f74042"/>
<circle cx="492.80" cy="203.50" r="3.55" fill="#f74042"/>
<circle cx="522.50" cy="203.50" r="3.55" fill="#f74042"/>
<circle cx="524.20" cy="203.50" r="3.55" fill="#f74042"/>
<circle cx="525.90" cy="203.50" r="3.55" fill="#f74042"/>
<circle cx="556.00" cy="203.50" r="3.55" fill="#f74042"/>
<circle cx="557.40" cy="203.50" r="3.55" fill="#f74042"/>
<circle cx="558.80" cy="203.50" r="3.55" fill="#f74042"/>
<circle cx="588.50" cy="203.50" r="3.55" fill="#f74042"/>
<circle cx="590.05" cy="203.50" r="3.55" fill="#f74042"/>
<circle cx="591.60" cy="203.50" r="3.55" fill="#f74042"/>
<circle cx="62.50" cy="33.80" r="3.55" fill="#f74042"/>
<circle cx="62.50" cy="42.10" r="3.55" fill="#f74042"/>
<circle cx="62.50" cy="63.30" r="3.55" fill="#f74042"/>
<circle cx="62.50" cy="102.40" r="3.55" fill="#f74042"/>
<circle cx="60.90" cy="108.00" r="3.55" fill="#f74042"/>
<circle cx="64.00" cy="112.10" r="3.55" fill="#f74042"/>
<circle cx="95.50" cy="122.50" r="3.55" fill="#f74042"/>
<circle cx="93.80" cy="129.50" r="3.55" fill="#f74042"/>
<circle cx="96.90" cy="132.30" r="3.55" fill="#f74042"/>
<circle cx="95.50" cy="137.50" r="3.55" fill="#f74042"/>
<circle cx="128.30" cy="123.50" r="3.55" fill="#f74042"/>
<circle cx="128.30" cy="128.70" r="3.55" fill="#f74042"/>
<circle cx="128.30" cy="137.40" r="3.55" fill="#f74042"/>
<circle cx="128.30" cy="148.50" r="3.55" fill="#f74042"/>
<circle cx="128.40" cy="167.25" r="3.55" fill="#f74042"/>
<circle cx="159.90" cy="125.40" r="3.55" fill="#f74042"/>
<circle cx="163.00" cy="126.40" r="3.55" fill="#f74042"/>
<circle cx="194.50" cy="126.30" r="3.55" fill="#f74042"/>
<circle cx="194.50" cy="141.75" r="3.55" fill="#f74042"/>
<circle cx="194.50" cy="150.10" r="3.55" fill="#f74042"/>
<circle cx="227.50" cy="127.10" r="3.55" fill="#f74042"/>
<circle cx="227.50" cy="134.60" r="3.55" fill="#f74042"/>
<circle cx="227.50" cy="151.60" r="3.55" fill="#f74042"/>
<circle cx="260.60" cy="129.00" r="3.55" fill="#f74042"/>
<circle cx="258.50" cy="133.50" r="3.55" fill="#f74042"/>
<circle cx="261.80" cy="137.00" r="3.55" fill="#f74042"/>
<circle cx="260.60" cy="143.20" r="3.55" fill="#f74042"/>
<circle cx="258.50" cy="152.25" r="3.55" fill="#f74042"/>
<circle cx="261.60" cy="155.80" r="3.55" fill="#f74042"/>
<circle cx="293.30" cy="132.10" r="3.55" fill="#f74042"/>
<circle cx="293.30" cy="139.90" r="3.55" fill="#f74042"/>
<circle cx="326.40" cy="134.50" r="3.55" fill="#f74042"/>
<circle cx="326.40" cy="145.20" r="3.55" fill="#f74042"/>
<circle cx="359.30" cy="137.90" r="3.55" fill="#f74042"/>
<circle cx="392.50" cy="144.50" r="3.55" fill="#f74042"/>
<circle cx="392.50" cy="158.65" r="3.55" fill="#f74042"/>
<circle cx="425.30" cy="146.20" r="3.55" fill="#f74042"/>
<circle cx="425.30" cy="159.70" r="3.55" fill="#f74042"/>
<circle cx="458.40" cy="146.80" r="3.55" fill="#f74042"/>
<circle cx="627.50" cy="26.95" r="3.55" fill="#f74042"/>
<polygon points="627.50,51.68 630.27,56.85 624.73,56.85" fill="#b856d6" stroke="#b856d6" stroke-width="1.3" stroke-linejoin="round"/>
<polygon points="627.50,78.00 630.15,80.65 627.50,83.30 624.85,80.65" fill="#0000ff" stroke="#0000ff" stroke-width="1.7" stroke-linejoin="round"/>
<polygon points="624.73,104.95 630.27,104.95 627.50,110.12" fill="#55a2ff" stroke="#55a2ff" stroke-width="1.3" stroke-linejoin="round"/>
<rect x="623.95" y="131.00" width="7.1" height="7.1" rx="0.7" fill="#f750d4"/>
</g>
<g font-family="'Liberation Sans', Arial, sans-serif" font-size="12.7" fill="#000">
<text x="649" y="29.9">day1</text>
<text x="649" y="57.1">day2</text>
<text x="649" y="84.2">day4</text>
<text x="649" y="111.1">day8</text>
<text x="649" y="138.1">day15</text>
<text x="22.7" y="16.3">10<tspan dy="-5.0" font-size="12">8</tspan></text>
<text x="22.7" y="64.6">10<tspan dy="-5.0" font-size="12">6</tspan></text>
<text x="22.7" y="112.6">10<tspan dy="-5.0" font-size="12">4</tspan></text>
<text x="22.7" y="160.6">10<tspan dy="-5.0" font-size="12">2</tspan></text>
<text x="22.7" y="208.9">10<tspan dy="-5.0" font-size="12">0</tspan></text>
<text transform="translate(10.8,191.7) rotate(-90)" x="0" y="0" font-size="12.92">Ad-Hx copy/100ng gDNA</text>
<text transform="translate(77.70,223.6) rotate(-45)" text-anchor="end" x="0" y="0" font-size="12.92">skeletal muscle</text>
<text transform="translate(110.66,223.6) rotate(-45)" text-anchor="end" x="0" y="0" font-size="12.92">blood</text>
<text transform="translate(143.62,223.6) rotate(-45)" text-anchor="end" x="0" y="0" font-size="12.92">liver</text>
<text transform="translate(176.58,223.6) rotate(-45)" text-anchor="end" x="0" y="0" font-size="12.92">prostate</text>
<text transform="translate(209.54,223.6) rotate(-45)" text-anchor="end" x="0" y="0" font-size="12.92">colon</text>
<text transform="translate(242.50,223.6) rotate(-45)" text-anchor="end" x="0" y="0" font-size="12.92">bone marrow</text>
<text transform="translate(275.46,223.6) rotate(-45)" text-anchor="end" x="0" y="0" font-size="12.92">spleen</text>
<text transform="translate(308.42,223.6) rotate(-45)" text-anchor="end" x="0" y="0" font-size="12.92">stomach</text>
<text transform="translate(341.38,223.6) rotate(-45)" text-anchor="end" x="0" y="0" font-size="12.92">Mesenteric LN</text>
<text transform="translate(374.34,223.6) rotate(-45)" text-anchor="end" x="0" y="0" font-size="12.92">brain</text>
<text transform="translate(407.30,223.6) rotate(-45)" text-anchor="end" x="0" y="0" font-size="12.92">kidney</text>
<text transform="translate(440.26,223.6) rotate(-45)" text-anchor="end" x="0" y="0" font-size="12.92">lung</text>
<text transform="translate(473.22,223.6) rotate(-45)" text-anchor="end" x="0" y="0" font-size="12.92">testis</text>
<text transform="translate(506.18,223.6) rotate(-45)" text-anchor="end" x="0" y="0" font-size="12.92">ovary</text>
<text transform="translate(539.14,223.6) rotate(-45)" text-anchor="end" x="0" y="0" font-size="12.92">uterus</text>
<text transform="translate(572.10,223.6) rotate(-45)" text-anchor="end" x="0" y="0" font-size="12.92">thymus</text>
<text transform="translate(605.06,223.6) rotate(-45)" text-anchor="end" x="0" y="0" font-size="12.92">heart</text>
</g>
</svg>
</body></html>
